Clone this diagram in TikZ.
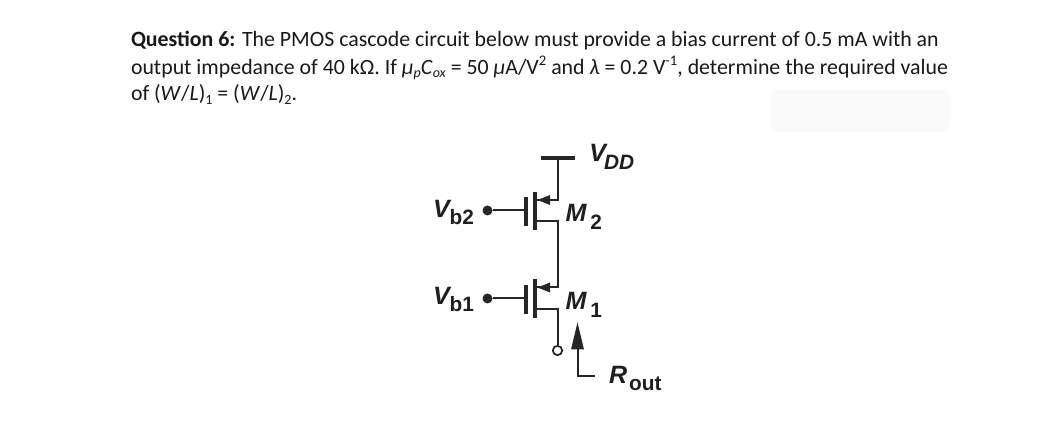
\documentclass[tikz,border=0pt]{standalone}
\usepackage{fontspec}
\setmainfont{Carlito}
\newfontfamily\circfont{Liberation Sans}
\usetikzlibrary{arrows.meta}
\newcommand{\subtxt}[1]{\raisebox{-0.14em}{\fontsize{10.5pt}{12pt}\selectfont #1}}
\newcommand{\suptxt}[1]{\raisebox{0.42em}{\fontsize{11pt}{12pt}\selectfont #1}}
\newcommand{\clsub}[3]{\kern#1\raisebox{#2}{\fontsize{15.6pt}{15.6pt}\selectfont #3}}
\tikzset{
  x=0.75pt,y=-0.75pt,
  qline/.style={anchor=base west,inner sep=0pt,outer sep=0pt,font=\fontsize{16.38pt}{18pt}\selectfont,text=black!90},
  clab/.style={anchor=base west,inner sep=0pt,outer sep=0pt,font=\circfont\bfseries\itshape\fontsize{18.8pt}{18.8pt}\selectfont,text=black!88},
  wire/.style={line width=1.5pt,color=black!85},
  thick bar/.style={line width=3pt,color=black!85},
  solid dot/.style={circle,fill=black!85,draw=none,minimum size=7.5pt,inner sep=0pt},
  open dot/.style={circle,fill=white,draw=black!85,line width=1.3pt,minimum size=7pt,inner sep=0pt},
}
\begin{document}
\begin{tikzpicture}
\useasboundingbox (0,0) rectangle (1055,423);
\fill[white] (0,0) rectangle (1055,423);
\fill[black!2,rounded corners=6pt] (770,89) rectangle (950,132);
% question text
\node[qline] (line1) at (131,47) {\textbf{Question 6:} The PMOS cascode circuit below must provide a bias current of 0.5 mA with an};
\node[qline] (line2) at (131,74.5) {output impedance of 40 kΩ. If \textit{μ}\subtxt{\textit{p}}\textit{C}\subtxt{\textit{ox}} = 50 \textit{μ}A/V\suptxt{2} and \textit{λ} = 0.2 V\suptxt{-1}, determine the required value};
\node[qline] (line3) at (131,101) {of (\textit{W}/\textit{L})\subtxt{1} = (\textit{W}/\textit{L})\subtxt{2}.};
% labels
\node[clab] (vdd) at (589.3,161.5) {V\clsub{-1.5pt}{-6pt}{DD}};
\node[clab] (vb2) at (433,217.5) {V\clsub{0pt}{-5.5pt}{\upshape b2}};
\node[clab] (vb1) at (433,304.5) {V\clsub{0pt}{-5.5pt}{\upshape b1}};
\node[clab] (m2) at (565.5,222) {M\clsub{3pt}{-5.7pt}{\upshape 2}};
\node[clab] (m1) at (565.5,309.5) {M\clsub{3pt}{-6pt}{\upshape 1}};
\node[clab] (rout) at (609,383.5) {R\clsub{1.5pt}{-5.5pt}{\upshape out}};
% terminals
\node[solid dot] (d2) at (487.5,210.5) {};
\node[solid dot] (d1) at (487.5,298.5) {};
\node[open dot] (out) at (557.5,350.5) {};
% named points
\coordinate (vddL) at (541,158.5);
\coordinate (vddR) at (575,158.5);
\coordinate (vddT) at (557.5,158.5);
\coordinate (g2) at (525.5,210.5);
\coordinate (g1) at (525.5,298.5);
\coordinate (s2c) at (534.5,200);
\coordinate (s2) at (557.5,200);
\coordinate (dr2c) at (534.5,221.5);
\coordinate (dr2) at (557.5,221.5);
\coordinate (s1c) at (534.5,287.5);
\coordinate (s1) at (557.5,287.5);
\coordinate (dr1c) at (534.5,309.5);
\coordinate (dr1) at (557.5,309.5);
\coordinate (rt) at (577.5,322.5);
\coordinate (rc) at (577.5,376);
\coordinate (re) at (594.5,376);
% VDD
\draw[thick bar] (vddL) -- (vddR);
% M2
\draw[thick bar] (525.5,197.5) -- (525.5,226.5);
\draw[thick bar] (534.5,192.5) -- (534.5,230);
\draw[wire] (d2) -- (g2);
\draw[wire] (vddT) -- (s2) -- (s2c);
\draw[wire] (dr2c) -- (dr2) -- (s1) -- (s1c);
\fill[black!85] (537.5,200) -- (550,195) -- (550,205) -- cycle;
% M1
\draw[thick bar] (525.5,285) -- (525.5,314);
\draw[thick bar] (534.5,279.5) -- (534.5,318.5);
\draw[wire] (d1) -- (g1);
\draw[wire] (dr1c) -- (dr1) -- (out);
\fill[black!85] (537.5,287.5) -- (550,282.5) -- (550,292.5) -- cycle;
% Rout arrow
\draw[wire] (re) -- (rc) -- (577.5,345);
\fill[black!85] (rt) -- (584,349.5) -- (571,349.5) -- cycle;
\end{tikzpicture}
\end{document}
